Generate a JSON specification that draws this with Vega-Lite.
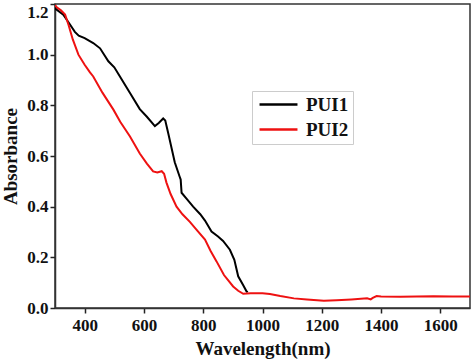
{
  "$schema": "https://vega.github.io/schema/vega-lite/v6.json",
  "width": 415,
  "height": 304,
  "autosize": "none",
  "padding": {"left": 55, "top": 4, "right": 4, "bottom": 54},
  "config": {
    "font": "Liberation Serif",
    "view": {"stroke": "#333333", "strokeWidth": 1.5},
    "axis": {
      "domain": true,
      "domainColor": "#333333",
      "domainWidth": 1.5,
      "grid": false,
      "zindex": 1,
      "labelFont": "Liberation Serif",
      "labelFontWeight": "bold",
      "labelFontSize": 17,
      "labelColor": "#111111",
      "titleFont": "Liberation Serif",
      "titleFontWeight": "bold",
      "titleFontSize": 19,
      "titleColor": "#111111"
    }
  },
  "data": {
    "values": [
      {"series": "PUI1", "wl": 300, "abs": 1.19},
      {"series": "PUI1", "wl": 303, "abs": 1.18},
      {"series": "PUI1", "wl": 328, "abs": 1.158},
      {"series": "PUI1", "wl": 350, "abs": 1.12},
      {"series": "PUI1", "wl": 367, "abs": 1.09},
      {"series": "PUI1", "wl": 380, "abs": 1.075},
      {"series": "PUI1", "wl": 400, "abs": 1.065},
      {"series": "PUI1", "wl": 429, "abs": 1.046},
      {"series": "PUI1", "wl": 452, "abs": 1.025},
      {"series": "PUI1", "wl": 480, "abs": 0.974},
      {"series": "PUI1", "wl": 500, "abs": 0.95},
      {"series": "PUI1", "wl": 519, "abs": 0.914},
      {"series": "PUI1", "wl": 553, "abs": 0.849},
      {"series": "PUI1", "wl": 586, "abs": 0.785},
      {"series": "PUI1", "wl": 610, "abs": 0.755},
      {"series": "PUI1", "wl": 637, "abs": 0.718},
      {"series": "PUI1", "wl": 650, "abs": 0.73},
      {"series": "PUI1", "wl": 665, "abs": 0.748},
      {"series": "PUI1", "wl": 672, "abs": 0.74},
      {"series": "PUI1", "wl": 682, "abs": 0.69},
      {"series": "PUI1", "wl": 704, "abs": 0.575},
      {"series": "PUI1", "wl": 720, "abs": 0.52},
      {"series": "PUI1", "wl": 724, "abs": 0.507},
      {"series": "PUI1", "wl": 727, "abs": 0.455},
      {"series": "PUI1", "wl": 745, "abs": 0.43},
      {"series": "PUI1", "wl": 766, "abs": 0.4},
      {"series": "PUI1", "wl": 790, "abs": 0.37},
      {"series": "PUI1", "wl": 806, "abs": 0.345},
      {"series": "PUI1", "wl": 828, "abs": 0.302},
      {"series": "PUI1", "wl": 850, "abs": 0.282},
      {"series": "PUI1", "wl": 867, "abs": 0.265},
      {"series": "PUI1", "wl": 890, "abs": 0.23},
      {"series": "PUI1", "wl": 905, "abs": 0.19},
      {"series": "PUI1", "wl": 918, "abs": 0.125},
      {"series": "PUI1", "wl": 935, "abs": 0.09},
      {"series": "PUI1", "wl": 946, "abs": 0.066},
      {"series": "PUI1", "wl": 950, "abs": 0.062},
      {"series": "PUI2", "wl": 300, "abs": 1.195},
      {"series": "PUI2", "wl": 306, "abs": 1.187},
      {"series": "PUI2", "wl": 320, "abs": 1.175},
      {"series": "PUI2", "wl": 334, "abs": 1.158},
      {"series": "PUI2", "wl": 345, "abs": 1.12},
      {"series": "PUI2", "wl": 360, "abs": 1.06},
      {"series": "PUI2", "wl": 379, "abs": 1.0},
      {"series": "PUI2", "wl": 400, "abs": 0.96},
      {"series": "PUI2", "wl": 418, "abs": 0.93},
      {"series": "PUI2", "wl": 429, "abs": 0.914},
      {"series": "PUI2", "wl": 460, "abs": 0.85},
      {"series": "PUI2", "wl": 497, "abs": 0.783},
      {"series": "PUI2", "wl": 520, "abs": 0.735},
      {"series": "PUI2", "wl": 553, "abs": 0.677},
      {"series": "PUI2", "wl": 586, "abs": 0.61},
      {"series": "PUI2", "wl": 610, "abs": 0.57},
      {"series": "PUI2", "wl": 631, "abs": 0.539},
      {"series": "PUI2", "wl": 645, "abs": 0.535},
      {"series": "PUI2", "wl": 660, "abs": 0.54},
      {"series": "PUI2", "wl": 668, "abs": 0.53},
      {"series": "PUI2", "wl": 676, "abs": 0.495},
      {"series": "PUI2", "wl": 690, "abs": 0.45},
      {"series": "PUI2", "wl": 710, "abs": 0.4},
      {"series": "PUI2", "wl": 730, "abs": 0.37},
      {"series": "PUI2", "wl": 755, "abs": 0.34},
      {"series": "PUI2", "wl": 780, "abs": 0.305},
      {"series": "PUI2", "wl": 806, "abs": 0.27},
      {"series": "PUI2", "wl": 825, "abs": 0.225},
      {"series": "PUI2", "wl": 845, "abs": 0.184},
      {"series": "PUI2", "wl": 870, "abs": 0.13},
      {"series": "PUI2", "wl": 901, "abs": 0.085},
      {"series": "PUI2", "wl": 918, "abs": 0.068},
      {"series": "PUI2", "wl": 935, "abs": 0.056},
      {"series": "PUI2", "wl": 960, "abs": 0.058},
      {"series": "PUI2", "wl": 1000, "abs": 0.058},
      {"series": "PUI2", "wl": 1025, "abs": 0.055},
      {"series": "PUI2", "wl": 1060, "abs": 0.047},
      {"series": "PUI2", "wl": 1106, "abs": 0.038},
      {"series": "PUI2", "wl": 1150, "abs": 0.034},
      {"series": "PUI2", "wl": 1207, "abs": 0.029},
      {"series": "PUI2", "wl": 1250, "abs": 0.031},
      {"series": "PUI2", "wl": 1300, "abs": 0.034},
      {"series": "PUI2", "wl": 1353, "abs": 0.038},
      {"series": "PUI2", "wl": 1365, "abs": 0.034},
      {"series": "PUI2", "wl": 1372, "abs": 0.04},
      {"series": "PUI2", "wl": 1385, "abs": 0.047},
      {"series": "PUI2", "wl": 1400, "abs": 0.045},
      {"series": "PUI2", "wl": 1465, "abs": 0.044},
      {"series": "PUI2", "wl": 1520, "abs": 0.045},
      {"series": "PUI2", "wl": 1577, "abs": 0.046},
      {"series": "PUI2", "wl": 1640, "abs": 0.045},
      {"series": "PUI2", "wl": 1700, "abs": 0.045}
    ]
  },
  "mark": {"type": "line", "strokeWidth": 2, "clip": true},
  "encoding": {
    "x": {
      "field": "wl",
      "type": "quantitative",
      "scale": {"domain": [300, 1700], "nice": false, "zero": false},
      "axis": {
        "title": "Wavelength(nm)",
        "values": [400, 600, 800, 1000, 1200, 1400, 1600],
        "format": "d",
        "ticks": true,
        "tickColor": "#222222",
        "tickWidth": 1.5,
        "tickSize": 5,
        "labelPadding": 4,
        "titlePadding": 6
      }
    },
    "y": {
      "field": "abs",
      "type": "quantitative",
      "scale": {"domain": [0, 1.2], "nice": false},
      "axis": {
        "title": "Absorbance",
        "values": [0, 0.2, 0.4, 0.6, 0.8, 1.0, 1.2],
        "format": ".1f",
        "labelBaseline": {"condition": {"test": "datum.value > 1.15", "value": "top"}, "value": "middle"},
        "ticks": true,
        "tickColor": "#222222",
        "tickWidth": 1.5,
        "tickSize": 5,
        "labelPadding": 2,
        "titlePadding": 6
      }
    },
    "color": {
      "field": "series",
      "type": "nominal",
      "scale": {"domain": ["PUI1", "PUI2"], "range": ["#000000", "#ee1111"]},
      "legend": {
        "title": null,
        "orient": "none",
        "legendX": 197,
        "legendY": 87,
        "symbolType": "M-3,0H3",
        "symbolSize": 160,
        "symbolStrokeWidth": 2.5,
        "symbolOffset": 13,
        "labelFont": "Liberation Serif",
        "labelFontWeight": "bold",
        "labelFontSize": 19,
        "labelColor": "#111111",
        "labelOffset": 18,
        "strokeColor": "#cccccc",
        "padding": 4,
        "rowPadding": 5
      }
    }
  }
}
